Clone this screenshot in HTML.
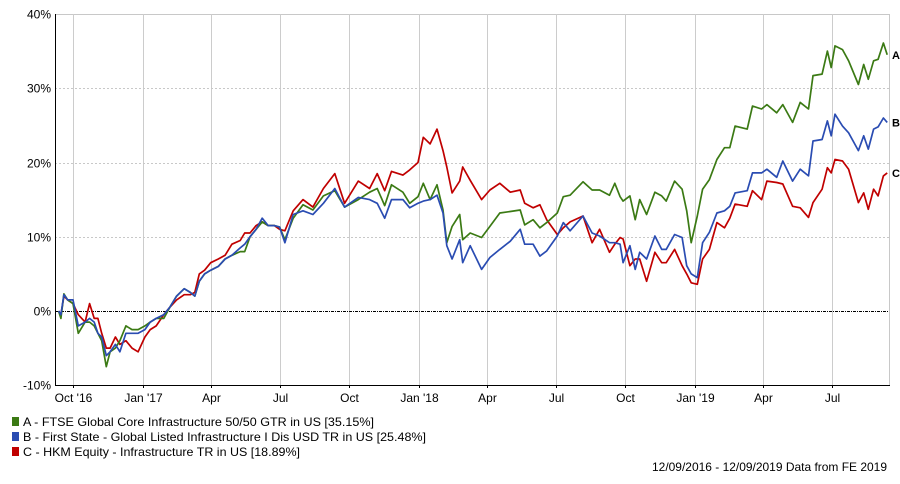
<!DOCTYPE html>
<html><head><meta charset="utf-8">
<style>
html,body{margin:0;padding:0;background:#fff;}
svg{display:block;font-family:"Liberation Sans",sans-serif;}
</style></head>
<body>
<svg id="chart" width="900" height="484" viewBox="0 0 900 484">
<g id="grid"></g>
<g id="series"></g>
<g id="axes"></g>
<g id="legend"></g>
<text x="652" y="471" font-size="12" textLength="235" lengthAdjust="spacingAndGlyphs" fill="#000">12/09/2016 - 12/09/2019 Data from FE 2019</text>
</svg>
<script>
// days since 12/09/2016
const days = [0,3,7,12,19,26,35,41,47,52,57,63,68,75,81,89,97,105,114,121,129,139,147,156,166,174,180,186,193,201,211,220,229,240,246,253,261,269,277,285,292,299,310,323,336,350,365,378,396,411,421,431,440,455,464,475,482,491,500,508,513,520,530,534,544,559,570,583,597,610,616,627,636,645,659,667,676,693,705,715,728,735,742,746,755,762,768,777,788,797,803,814,824,830,836,844,851,860,870,880,887,894,910,917,929,936,949,957,970,980,991,997,1009,1016,1021,1026,1036,1044,1057,1064,1070,1077,1083,1090,1095];
const seriesA = [0,-1,2.3,1.5,1,-3,-1.5,-1.5,-2,-3,-4,-7.5,-5.5,-5,-4,-2,-2.5,-2.5,-2,-1.5,-1,-1,0.5,2,3,2.5,2,4,5,5.5,6,7,7.5,8,8,10,11,12,11.5,11.5,11.3,9.6,12.5,14.3,13.6,15.5,16.2,14,15,16,16.5,14.2,17,16,14.5,15.4,17.2,15,17,13.6,9.2,11.4,13,9.6,10.5,9.9,11.4,13.2,13.4,13.6,11.6,12.3,11.2,11.9,13.2,15.4,15.6,17.4,16.3,16.3,15.6,17.2,15.4,14.8,15.5,12.3,15,13,16,15.5,14.8,17.5,16.4,13.5,9.2,12.8,16.4,17.7,20.4,22,22,24.9,24.5,27.6,27.2,27.8,26.7,27.8,25.4,28.1,27.2,31.7,31.9,35,32.8,35.7,35.2,33.7,30.5,33.2,31.2,33.7,33.9,36.1,34.5];
const seriesB = [0,-0.5,2.2,1.5,1.5,-2,-1.5,-1,-1.5,-3,-3.5,-6,-5.5,-4.5,-5.5,-3,-3,-3,-2.5,-1.5,-1,-0.5,0.5,2,3,2.5,2,4,5,5.5,6,7,7.5,8.5,9,10,11,12.5,11.5,11.5,11.3,9.2,13,13.5,13,14.5,16.5,14,15.3,15,14.5,12.5,15,15,13.9,14.5,14.8,15,15.6,13.2,8.8,7,9.6,6.5,8.8,5.6,7.2,8.3,9.4,11,9,9,7.4,8.1,10.1,11.9,10.8,12.8,10.5,10.1,9.2,9.2,9,6.5,8.8,5.6,7.9,7,10.1,8.3,8.3,10.3,9.9,6.1,5,4.5,9.2,10.6,13.2,13.5,14.1,15.9,16.2,18.6,18.6,19.1,18,20.2,17.5,19.1,18.2,22.9,23.1,25.6,23.6,26.5,24.9,24,21.6,23.6,21.8,24.5,24.8,26,25.4];
const seriesC = [0,-0.5,2,1.5,1,-0.5,-1.5,1,-1,-1,-3,-5,-5,-3.5,-4.5,-4,-5,-5.5,-3.5,-2.5,-2,-0.5,0.5,1.5,2.2,2.2,2.5,5,5.5,6.5,7,7.5,9,9.5,10.5,10.5,11.5,12,11.5,11.5,11,10.8,13.5,15,14,16.5,18.5,14.5,17.5,16.5,18.5,16.2,18.8,18.3,19,20,23.4,22.5,24.5,21.6,19.4,15.9,17.5,19.4,17.6,15,16.3,17.2,16,16.3,14.5,13.9,14.3,12.3,10.3,11.2,12,12.8,9.2,11,7.9,9,9.9,9.7,6.1,7,7,4,7.9,6.5,6.5,8.3,6.1,5,3.8,3.6,7,8.3,11.9,11.2,12.5,14.4,14.1,16.2,15,17.5,17.3,17.1,14.1,13.9,12.6,14.6,16.4,19.3,18.6,20.4,20.2,19.1,14.6,15.9,13.7,16.4,15.5,18.2,18.6];
const yTicks = [40,30,20,10,0,-10];
const xTickDays = [19,111,201,292,384,476,566,657,749,841,931,1022];
const xTickLabels = ["Oct '16","Jan '17","Apr","Jul","Oct","Jan '18","Apr","Jul","Oct","Jan '19","Apr","Jul"];
const seriesNames = ["A","B","C"];
const seriesColors = ["#3b7a14","#2a4cb2","#c00000"];
const legendTexts = ["A - FTSE Global Core Infrastructure 50/50 GTR in US [35.15%]","B - First State - Global Listed Infrastructure I Dis USD TR in US [25.48%]","C - HKM Equity - Infrastructure TR in US [18.89%]"];
const legendWidths = [351,403,277];

const NS="http://www.w3.org/2000/svg";
const L=55,R=889,T=14,B=385;
const xS=d=>58.6+d*0.7567;
const yS=v=>311-v*7.425;
function mk(tag,attrs,parent){const e=document.createElementNS(NS,tag);for(const k in attrs)e.setAttribute(k,attrs[k]);parent.appendChild(e);return e;}
const grid=document.getElementById('grid'),axes=document.getElementById('axes'),ser=document.getElementById('series'),leg=document.getElementById('legend');

mk('line',{x1:L,y1:T+0.5,x2:R,y2:T+0.5,stroke:'#c8c8c8'},grid);
mk('line',{x1:R+0.5,y1:T,x2:R+0.5,y2:B,stroke:'#c8c8c8'},grid);
xTickDays.forEach((d,i)=>{
  const x=Math.round(xS(d))+0.5;
  const gl=mk('line',{x1:x,y1:T,x2:x,y2:B,stroke:'#cccccc'},grid);
  
  
  const t=mk('text',{x:x,y:402,'font-size':12,'text-anchor':'middle',fill:'#000'},axes);
  t.textContent=xTickLabels[i];
  
  
  mk('line',{x1:x,y1:B,x2:x,y2:B+3,stroke:'#000'},axes);
});
yTicks.forEach(v=>{
  const y=Math.round(yS(v))+0.5;
  if(v!==40 && v!==-10){
    const gl=mk('line',{x1:L,y1:y,x2:R,y2:y,stroke:v===0?'#000':'#c8c8c8','stroke-dasharray':v===0?'3,1,1,1':'2,2'},grid);
    
    
  }
  const t=mk('text',{x:51,y:y+4,'font-size':12,'text-anchor':'end',fill:'#000'},axes);
  t.textContent=v+'%';
  
  
});
mk('line',{x1:L+0.5,y1:T,x2:L+0.5,y2:B,stroke:'#000'},axes);
mk('line',{x1:L,y1:B+0.5,x2:R+1,y2:B+0.5,stroke:'#000'},axes);

const all=[seriesA,seriesB,seriesC];
[2,0,1].forEach(si=>{
  const vals=all[si];
  const pts=vals.map((v,i)=>xS(days[i]).toFixed(1)+','+yS(v).toFixed(1)).join(' ');
  const p=mk('polyline',{points:pts,fill:'none',stroke:seriesColors[si],'stroke-width':1.7,'stroke-linejoin':'round'},ser);
  
  
  const lb=mk('text',{x:892,y:yS(vals[vals.length-1])+4,'font-size':11,'font-weight':'bold',fill:'#000'},ser);
  lb.textContent=seriesNames[si];
  
  
});
legendTexts.forEach((s,i)=>{
  const y=421+i*15;
  const r=mk('rect',{x:12,y:y-4,width:7,height:9,fill:seriesColors[i]},leg);
  
  
  const t=mk('text',{x:23,y:y+5,'font-size':12,fill:'#000',textLength:legendWidths[i],lengthAdjust:'spacingAndGlyphs'},leg);
  t.textContent=s;
  
  
});
</script>
</body></html>
